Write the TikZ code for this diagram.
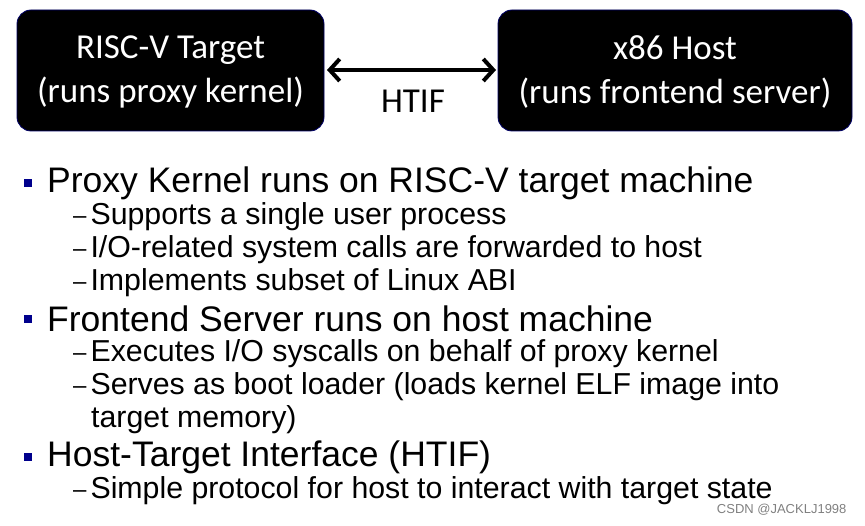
\documentclass[tikz,border=0pt]{standalone}
\usetikzlibrary{arrows.meta}
\usepackage{fontspec}
\setmainfont{Liberation Sans}
\newfontfamily\calib{Carlito}
\begin{document}
\begin{tikzpicture}[x=1pt,y=-1pt,
 box/.style={fill=black,rounded corners=14pt,draw=black!60!blue,line width=0.8pt},
 bt/.style={text=white,font=\calib\fontsize{35}{44}\selectfont,align=center},
 l1/.style={anchor=west,font=\fontsize{35.5}{40}\selectfont,inner sep=0},
 l2/.style={anchor=west,font=\fontsize{30.3}{34}\selectfont,inner sep=0},
 bul/.style={fill=blue!55!black,minimum size=8pt,inner sep=0},
 ]
\useasboundingbox (0,0) rectangle (865,526);
\draw[box] (17,10) rectangle (324,131);
\draw[box] (498,10) rectangle (852,131);
\node[bt] (t) at (170.5,72) {RISC-V Target\\(runs proxy kernel)};
\node[bt] (h) at (675,72) {x86 Host\\(runs frontend server)};
\coordinate (ta) at (327,70); \coordinate (ha) at (496,70);
\draw[line width=4pt,<->,>={Straight Barb[length=10pt,width=22pt]}] (ta) -- (ha);
\node[font=\calib\fontsize{35}{38}\selectfont] (lab) at (413,101) {HTIF};
\foreach \y/\t in {183/{Proxy Kernel runs on RISC-V target machine},319/{Frontend Server runs on host machine},457/{Host-Target Interface (HTIF)}}{
 \node[bul] at (28,\y) {};
 \node[l1] at (47,\y) {\t};}
\foreach \y/\t in {217/{Supports a single user process},250/{I/O-related system calls are forwarded to host},283/{Implements subset of Linux ABI},354/{Executes I/O syscalls on behalf of proxy kernel},387/{Serves as boot loader (loads kernel ELF image into},491/{Simple protocol for host to interact with target state}}{
 \node[l2] at (73,\y) {\fontsize{24}{24}\selectfont\raisebox{1pt}{\textendash}\hspace{4pt}\fontsize{30.3}{34}\selectfont\t};}
\node[l2] at (91,420) {target memory)};
\node[anchor=east,text=gray,font=\fontsize{13}{14}\selectfont] (w) at (850,510) {CSDN @JACKLJ1998};
\end{tikzpicture}
\end{document}
